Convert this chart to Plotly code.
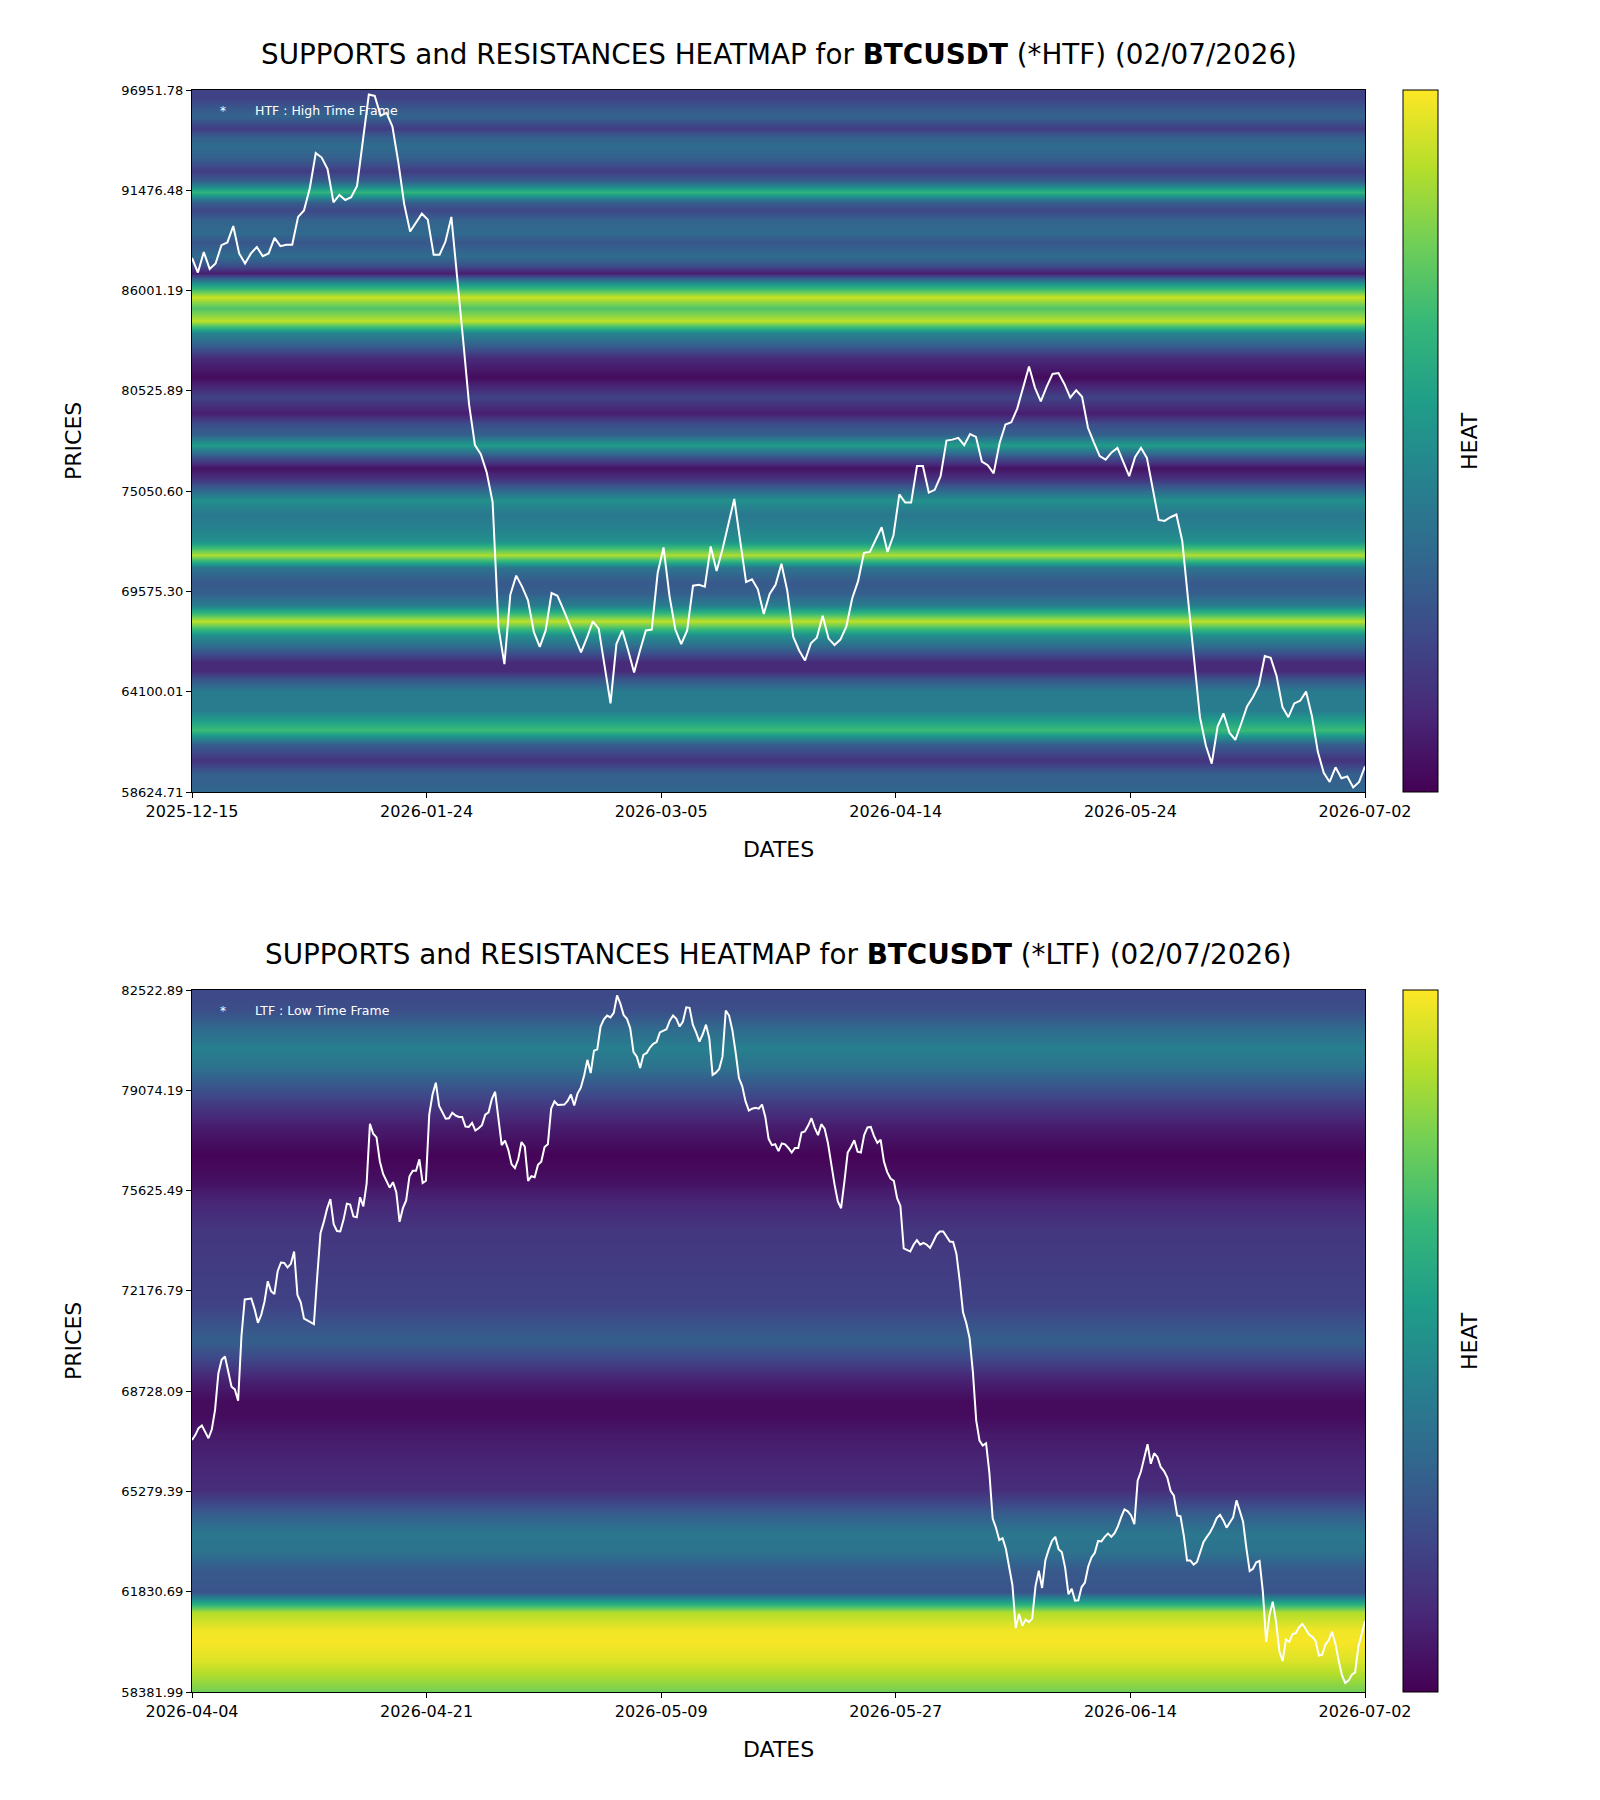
import numpy as np
import pandas as pd
import plotly.graph_objects as go

W, H = 1600, 1800
FONT = "DejaVu Sans"

# ---------------- DATA ----------------
SYMBOL = "BTCUSDT"
REPORT_DATE = "02/07/2026"

# High time frame (daily closes)
HTF_START = "2025-12-15"
HTF_END = "2026-07-02"
HTF_CLOSE = [
    87781, 86984, 88105, 87183, 87482, 88479, 88628, 89526, 88030, 87482,
    88030, 88379, 87881, 88030, 88878, 88429, 88504, 88504, 90024, 90373,
    91619, 93513, 93264, 92641, 90821, 91220, 90946, 91096, 91719, 94310,
    96703, 96628, 95556, 95706, 94958, 93014, 90722, 89227, 89725, 90198,
    89874, 87956, 87956, 88678, 90024, 86784, 83296, 79807, 77564, 77066,
    76069, 74449, 67596, 65602, 69390, 70437, 69839, 69091, 67347, 66549,
    67446, 69490, 69340, 68593, 67845, 67048, 66250, 67048, 67945, 67546,
    65602, 63459, 66699, 67446, 66350, 65154, 66350, 67446, 67496, 70586,
    71982, 69340, 67496, 66699, 67446, 69889, 69938, 69839, 72032, 70686,
    71882, 73328, 74623, 72331, 70088, 70237, 69689, 68344, 69440, 69938,
    71085, 69590, 67098, 66350, 65802, 66749, 67048, 68244, 66998, 66649,
    66948, 67646, 69191, 70138, 71683, 71733, 72381, 73079, 71733, 72630,
    74873, 74424, 74424, 76418, 76418, 74973, 75122, 75870, 77813, 77863,
    77963, 77564, 78162, 78013, 76667, 76468, 76019, 77664, 78686, 78810,
    79558, 80704, 81850, 80704, 79957, 80754, 81452, 81502, 80903, 80156,
    80555, 80206, 78511, 77714, 76966, 76767, 77165, 77415, 76617, 75870,
    76916, 77415, 76866, 75172, 73477, 73427, 73627, 73776, 72331, 69091,
    65852, 62712, 61167, 60170, 62213, 62911, 61865, 61466, 62363, 63310,
    63808, 64456, 66051, 65951, 64955, 63260, 62712, 63459, 63609, 64107,
    62762, 60818, 59672, 59173, 59971, 59373, 59472, 58874, 59173, 60021,
]
HTF_PRICE_MIN = 58624.71
HTF_PRICE_MAX = 96951.78
HTF_YTICK_LABELS = ["58624.71", "64100.01", "69575.30", "75050.60",
                    "80525.89", "86001.19", "91476.48", "96951.78"]
HTF_XTICK_LABELS = ["2025-12-15", "2026-01-24", "2026-03-05",
                    "2026-04-14", "2026-05-24", "2026-07-02"]
# heat profile (price level -> normalised heat), top to bottom
HTF_HEAT_LEVELS = [
    96952, 96503, 96005, 95506, 94883, 94385, 93887, 93264, 92516, 91968,
    91395, 90822, 90398, 89775, 89152, 88653, 87906, 87407, 86984, 86410,
    85663, 85040, 84342, 83669, 83046, 82298, 81302, 80679, 80180, 79308,
    78685, 78187, 77564, 76940, 76317, 75694, 75196, 74573, 73825, 72953,
    72330, 71582, 70835, 70087, 69464, 68841, 67969, 67221, 66474, 65726,
    65228, 64854, 64107, 63110, 61989, 61241, 60369, 59621, 58624,
]
HTF_HEAT = [
    0.20, 0.20, 0.27, 0.32, 0.18, 0.30, 0.35, 0.30, 0.18, 0.30,
    0.65, 0.30, 0.22, 0.32, 0.34, 0.27, 0.35, 0.25, 0.08, 0.50,
    0.92, 0.72, 0.90, 0.45, 0.30, 0.12, 0.03, 0.12, 0.20, 0.08,
    0.25, 0.30, 0.55, 0.25, 0.05, 0.15, 0.30, 0.50, 0.40, 0.45,
    0.50, 0.88, 0.38, 0.28, 0.30, 0.42, 0.90, 0.50, 0.32, 0.12,
    0.12, 0.25, 0.42, 0.42, 0.68, 0.30, 0.15, 0.30, 0.33,
]

# Low time frame (6h closes)
LTF_START = "2026-04-04"
LTF_END = "2026-07-02"
LTF_CLOSE = [
    67046, 67218, 67454, 67548, 67328, 67108, 67407, 68081, 69338, 69808,
    69918, 69400, 68882, 68788, 68396, 70609, 71880, 71896, 71912, 71550,
    71080, 71346, 71802, 72508, 72163, 72068, 72854, 73152, 73136, 72979,
    73105, 73528, 72037, 71786, 71221, 71158, 71096, 71032, 72665, 74156,
    74549, 75004, 75334, 74470, 74235, 74219, 74627, 75176, 75145, 74737,
    74706, 75396, 75083, 75867, 77924, 77578, 77453, 76636, 76197, 75930,
    75726, 75914, 75569, 74549, 75020, 75286, 76119, 76307, 76307, 76699,
    75883, 75961, 78238, 78928, 79336, 78536, 78285, 78096, 78112, 78300,
    78206, 78159, 78159, 77829, 77814, 77955, 77688, 77766, 77877, 78237,
    78316, 78771, 79023, 78096, 77186, 77343, 77029, 76526, 76401, 76699,
    77296, 77139, 75962, 76118, 76087, 76511, 76621, 77123, 77217, 78441,
    78693, 78567, 78567, 78583, 78709, 78928, 78552, 78959, 79164, 79572,
    80121, 79666, 80435, 80482, 81267, 81518, 81644, 81581, 81738, 82334,
    82052, 81659, 81534, 81204, 80388, 80231, 79839, 80294, 80357, 80545,
    80671, 80733, 81063, 81126, 81173, 81471, 81644, 81534, 81267, 81440,
    81926, 81910, 81330, 81063, 80749, 81000, 81330, 80859, 79603, 79681,
    79807, 80231, 81817, 81644, 81142, 80372, 79493, 79211, 78693, 78379,
    78442, 78473, 78442, 78583, 78159, 77405, 77186, 77217, 76982, 77248,
    77217, 77091, 76935, 77091, 77092, 77625, 77657, 77861, 78112, 77782,
    77531, 77908, 77751, 77264, 76511, 75836, 75255, 75019, 75930, 76934,
    77123, 77358, 76966, 76934, 77531, 77798, 77814, 77500, 77264, 77374,
    76621, 76260, 76040, 75961, 75365, 75098, 73638, 73591, 73529, 73764,
    73921, 73764, 73827, 73764, 73654, 73874, 74109, 74219, 74219, 74046,
    73874, 73858, 73450, 72524, 71441, 71064, 70546, 69384, 67721, 67030,
    66857, 66936, 65916, 64346, 64032, 63608, 63671, 63310, 62619, 62054,
    60579, 61065, 60657, 60876, 60783, 60908, 62023, 62556, 61960, 62917,
    63278, 63576, 63718, 63294, 63184, 62650, 61740, 61928, 61520, 61536,
    61991, 62148, 62698, 63011, 63169, 63576, 63561, 63718, 63828, 63718,
    63844, 64079, 64393, 64659, 64597, 64455, 64157, 65648, 65963, 66449,
    66904, 66229, 66591, 66465, 66120, 65978, 65759, 65303, 65131, 64455,
    64424, 63765, 62902, 62902, 62760, 62854, 63184, 63545, 63718, 63875,
    64095, 64361, 64471, 64283, 64032, 64204, 64393, 64973, 64613, 64236,
    63326, 62540, 62619, 62839, 62886, 61834, 60108, 61018, 61489, 60814,
    59794, 59448, 60186, 60107, 60375, 60406, 60610, 60719, 60547, 60358,
    60280, 60139, 59637, 59668, 60013, 60170, 60453, 60045, 59464, 58961,
    58695, 58773, 58977, 59056, 59951, 60421, 60814,
]
LTF_PRICE_MIN = 58381.99
LTF_PRICE_MAX = 82522.89
LTF_YTICK_LABELS = ["58381.99", "61830.69", "65279.39", "68728.09",
                    "72176.79", "75625.49", "79074.19", "82522.89"]
LTF_XTICK_LABELS = ["2026-04-04", "2026-04-21", "2026-05-09",
                    "2026-05-27", "2026-06-14", "2026-07-02"]
LTF_HEAT_LEVELS = [
    82523, 81835, 81147, 80528, 79909, 79256, 78568, 77880, 76849, 75989,
    75301, 74269, 72894, 71690, 71002, 70452, 69867, 69179, 68423, 67907,
    67219, 66360, 65328, 64468, 63780, 63264, 62577, 61820, 61132, 60513,
    60097, 59481, 58965, 58382,
]
LTF_HEAT = [
    0.22, 0.24, 0.35, 0.43, 0.38, 0.27, 0.17, 0.08, 0.01, 0.04,
    0.10, 0.16, 0.18, 0.20, 0.26, 0.30, 0.22, 0.10, 0.03, 0.03,
    0.07, 0.10, 0.13, 0.30, 0.40, 0.38, 0.28, 0.26, 0.88, 0.98,
    0.99, 0.95, 0.88, 0.78,
]

# ---------------- LAYOUT HELPERS ----------------
def px_x(p):
    return p / W

def px_y(p):
    return 1 - p / H

PLOT_L, PLOT_R = 192, 1365
CB_L, CB_W = 1403, 35
PANELS = [
    dict(top=90, bottom=792, title_y=54, label_y=849),
    dict(top=990, bottom=1692, title_y=954, label_y=1749),
]

fig = go.Figure()
annotations = []
layout_axes = {}

datasets = [
    dict(start=HTF_START, end=HTF_END, close=HTF_CLOSE,
         pmin=HTF_PRICE_MIN, pmax=HTF_PRICE_MAX, ylabels=HTF_YTICK_LABELS,
         xlabels=HTF_XTICK_LABELS, levels=HTF_HEAT_LEVELS, heat=HTF_HEAT,
         tf="HTF", note="HTF : High Time Frame"),
    dict(start=LTF_START, end=LTF_END, close=LTF_CLOSE,
         pmin=LTF_PRICE_MIN, pmax=LTF_PRICE_MAX, ylabels=LTF_YTICK_LABELS,
         xlabels=LTF_XTICK_LABELS, levels=LTF_HEAT_LEVELS, heat=LTF_HEAT,
         tf="LTF", note="LTF : Low Time Frame"),
]

for i, (d, p) in enumerate(zip(datasets, PANELS)):
    n = "" if i == 0 else str(i + 1)
    xa, ya = "x" + n, "y" + n
    start, end = pd.Timestamp(d["start"]), pd.Timestamp(d["end"])
    dates = pd.date_range(start, end, periods=len(d["close"]))

    levels = list(reversed(d["levels"]))
    heat = list(reversed(d["heat"]))
    z = [[h, h] for h in heat]

    fig.add_trace(go.Heatmap(
        x=[start, end], y=levels, z=z, zmin=0, zmax=1,
        colorscale="Viridis", zsmooth="best", hoverinfo="skip",
        xaxis=xa, yaxis=ya,
        colorbar=dict(
            x=px_x(CB_L), xanchor="left",
            y=px_y((p["top"] + p["bottom"]) / 2), yanchor="middle",
            len=(p["bottom"] - p["top"]) / H, lenmode="fraction",
            thickness=CB_W, thicknessmode="pixels",
            outlinewidth=1, outlinecolor="black",
            showticklabels=False, ticks="", xpad=0, ypad=0,
        ),
    ))
    fig.add_trace(go.Scatter(
        x=dates, y=d["close"], mode="lines",
        line=dict(color="white", width=2),
        xaxis=xa, yaxis=ya, showlegend=False, hoverinfo="skip",
    ))

    span = end - start
    xt = [start + span * k / 5 for k in range(6)]
    yt = list(np.linspace(d["pmin"], d["pmax"], 8))

    layout_axes["xaxis" + n] = dict(
        domain=[px_x(PLOT_L), px_x(PLOT_R)], anchor=ya, type="date",
        range=[start, end], tickvals=xt, ticktext=d["xlabels"],
        ticks="outside", ticklen=5, tickwidth=1, tickcolor="black",
        showline=True, mirror=True, linecolor="black", linewidth=1,
        showgrid=False, zeroline=False,
        tickfont=dict(family=FONT, size=16, color="black"),
    )
    layout_axes["yaxis" + n] = dict(
        domain=[px_y(p["bottom"]), px_y(p["top"])], anchor=xa,
        range=[d["pmin"], d["pmax"]], tickvals=yt, ticktext=d["ylabels"],
        ticks="outside", ticklen=5, tickwidth=1, tickcolor="black",
        showline=True, mirror=True, linecolor="black", linewidth=1,
        showgrid=False, zeroline=False,
        tickfont=dict(family=FONT, size=13, color="black"),
    )

    mid_y = (p["top"] + p["bottom"]) / 2
    annotations += [
        dict(text=f"SUPPORTS and RESISTANCES HEATMAP for <b>{SYMBOL}</b> "
                  f"(*{d['tf']}) ({REPORT_DATE})",
             x=px_x((PLOT_L + PLOT_R) / 2), y=px_y(p["title_y"]),
             xanchor="center", yanchor="middle",
             font=dict(family=FONT, size=27.8, color="black")),
        dict(text="PRICES", x=px_x(73), y=px_y(mid_y), textangle=-90,
             xanchor="center", yanchor="middle",
             font=dict(family=FONT, size=22, color="black")),
        dict(text="DATES", x=px_x((PLOT_L + PLOT_R) / 2), y=px_y(p["label_y"]),
             xanchor="center", yanchor="middle",
             font=dict(family=FONT, size=22, color="black")),
        dict(text="HEAT", x=px_x(1469), y=px_y(mid_y), textangle=-90,
             xanchor="center", yanchor="middle",
             font=dict(family=FONT, size=22, color="black")),
        dict(text="*", x=px_x(223), y=px_y(p["top"] + 21),
             xanchor="center", yanchor="middle",
             font=dict(family=FONT, size=12, color="white")),
        dict(text=d["note"], x=px_x(253), y=px_y(p["top"] + 20),
             xanchor="left", yanchor="middle",
             font=dict(family=FONT, size=12.5, color="white")),
    ]

for a in annotations:
    a.update(xref="paper", yref="paper", showarrow=False)

fig.update_layout(
    width=W, height=H,
    margin=dict(l=0, r=0, t=0, b=0, autoexpand=False),
    paper_bgcolor="white", plot_bgcolor="white",
    showlegend=False,
    annotations=annotations,
    font=dict(family=FONT),
    **layout_axes,
)

fig.write_html("out.html")
